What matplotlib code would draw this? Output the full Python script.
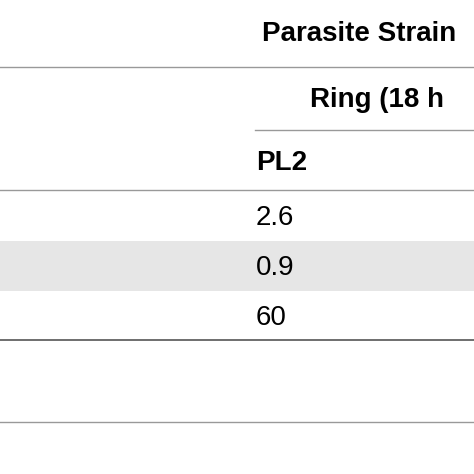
import matplotlib.pyplot as plt

header_top = "Parasite Strain"
header_sub = "Ring (18 h"
column = "PL2"
values = ["2.6", "0.9", "60"]
shaded = [False, True, False]

W, H = 474, 474
fig = plt.figure(figsize=(W / 100, H / 100), dpi=100)
ax = fig.add_axes([0, 0, 1, 1])
ax.set_xlim(0, W)
ax.set_ylim(H, 0)
ax.axis("off")

plt.rcParams["font.family"] = ["Liberation Sans", "DejaVu Sans"]
fs = 20

# row shading
row_top = 190
row_h = 50
for i, s in enumerate(shaded):
    if s:
        ax.axhspan(row_top + i * row_h + 1, row_top + (i + 1) * row_h + 1, color="#e6e6e6", lw=0)

# rules
ax.plot([0, W], [67, 67], color="#999999", lw=1)
ax.plot([255, W], [130, 130], color="#999999", lw=1)
ax.plot([0, W], [190, 190], color="#999999", lw=1)
ax.plot([0, W], [340, 340], color="#555555", lw=1.2)
ax.plot([0, W], [422, 422], color="#999999", lw=1)

ax.text(262, 34, header_top, fontsize=fs, fontweight="bold", va="center", clip_on=True)
ax.text(310, 100, header_sub, fontsize=fs, fontweight="bold", va="center", clip_on=True)
ax.text(256, 163, column, fontsize=fs, fontweight="bold", va="center")
for i, v in enumerate(values):
    ax.text(256, row_top + i * row_h + 28, v, fontsize=fs, va="center")

fig.savefig("out.png", dpi=100)
